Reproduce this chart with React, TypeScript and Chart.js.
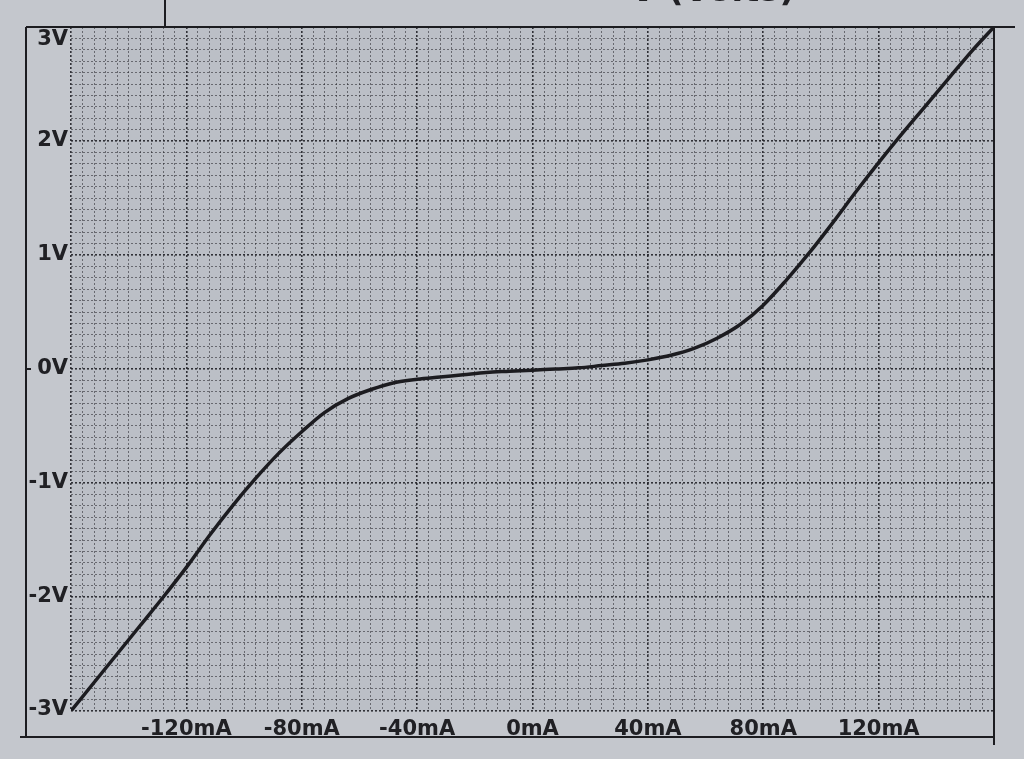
import React, { useEffect, useRef } from "react";
import { Chart, registerables } from "chart.js";

Chart.register(...registerables);

// Current (mA) and voltage (V)
const CURRENT_MA = [
  -160, -152, -144, -136, -128, -120, -112, -104, -96, -88, -80, -72, -64, -56, -48, -40,
  -32, -24, -16, -8, 0, 8, 16, 24, 32, 40, 48, 56, 64, 72, 80, 88, 96, 104, 112, 120,
  128, 136, 144, 152, 160,
];
const VOLTAGE_V = [
  -3.0, -2.75, -2.5, -2.25, -2.0, -1.74, -1.46, -1.2, -0.96, -0.74, -0.55, -0.38, -0.26, -0.18, -0.12, -0.09,
  -0.07, -0.05, -0.03, -0.02, -0.01, 0.0, 0.01, 0.03, 0.05, 0.08, 0.12, 0.18, 0.27, 0.39, 0.56, 0.78, 1.02, 1.28, 1.55, 1.81,
  2.06, 2.3, 2.54, 2.78, 3.0,
];
const X_TICK_LABELS = [-120, -80, -40, 0, 40, 80, 120];
const Y_TICK_LABELS = [3, 2, 1, 0, -1, -2, -3];
const TITLE_TEXT = "V (Volts)";

const PAGE_BG = "#c4c7cd";
const PLOT_BG = "#bbbfc6";
const INK = "#1c1c20";
const LABEL_FONT = { family: "'DejaVu Sans', sans-serif", size: 21, weight: "bold" as const };

const isMajorX = (v: number) => Math.abs(v / 40 - Math.round(v / 40)) < 1e-6;
const isMajorY = (v: number) => Math.abs(v - Math.round(v)) < 1e-6;

const decorPlugin = {
  id: "decor",
  beforeDraw(chart: any) {
    const { ctx, chartArea: a } = chart;
    ctx.save();
    ctx.fillStyle = PAGE_BG;
    ctx.fillRect(0, 0, chart.width, chart.height);
    ctx.fillStyle = PLOT_BG;
    ctx.fillRect(a.left, a.top, a.right - a.left, a.bottom - a.top);
    ctx.restore();
  },
  afterDraw(chart: any) {
    const { ctx, chartArea: a } = chart;
    const ys = chart.scales.y;
    ctx.save();
    // frame
    ctx.strokeStyle = INK;
    ctx.lineWidth = 2;
    const fl = a.left - 45;
    ctx.beginPath();
    ctx.moveTo(fl, a.top);
    ctx.lineTo(a.right + 21, a.top);
    ctx.moveTo(a.right, a.top);
    ctx.lineTo(a.right, a.bottom + 34);
    ctx.moveTo(fl, a.top);
    ctx.lineTo(fl, a.bottom + 26);
    ctx.moveTo(fl - 6, a.bottom + 26);
    ctx.lineTo(a.right, a.bottom + 26);
    ctx.moveTo(fl + 139, 0);
    ctx.lineTo(fl + 139, a.top);
    ctx.stroke();
    // small tick on outer frame
    ctx.beginPath();
    ctx.moveTo(fl, ys.getPixelForValue(0));
    ctx.lineTo(fl + 5, ys.getPixelForValue(0));
    ctx.stroke();

    // y labels
    ctx.fillStyle = "#202024";
    ctx.font = `bold ${LABEL_FONT.size}px ${LABEL_FONT.family}`;
    ctx.textAlign = "right";
    ctx.textBaseline = "middle";
    for (const v of Y_TICK_LABELS) {
      let y = ys.getPixelForValue(v);
      y = Math.max(a.top + 13, Math.min(a.bottom - 1, y));
      ctx.fillText(`${v}V`, a.left - 3, y);
    }
    // cut-off axis title at the top
    ctx.font = `bold 34px ${LABEL_FONT.family}`;
    ctx.textAlign = "center";
    ctx.textBaseline = "alphabetic";
    ctx.fillText(TITLE_TEXT, (a.left + a.right) / 2 + 180, 1);
    ctx.restore();
  },
};

export default function App() {
  const ref = useRef<HTMLCanvasElement | null>(null);

  useEffect(() => {
    if (!ref.current) return;
    const chart = new Chart(ref.current, {
      type: "scatter",
      data: {
        datasets: [
          {
            data: CURRENT_MA.map((x, i) => ({ x, y: VOLTAGE_V[i] })),
            showLine: true,
            borderColor: INK,
            borderWidth: 3.5,
            pointRadius: 0,
            cubicInterpolationMode: "monotone",
          } as any,
        ],
      },
      options: {
        animation: false,
        responsive: false,
        layout: { padding: { left: 71, top: 27, right: 30, bottom: 0 } },
        plugins: { legend: { display: false }, tooltip: { enabled: false } },
        scales: {
          x: {
            type: "linear",
            min: -160,
            max: 160,
            afterFit: (s: any) => {
              s.height = 48;
            },
            ticks: {
              stepSize: 4,
              maxTicksLimit: 200,
              autoSkip: false,
              maxRotation: 0,
              minRotation: 0,
              padding: 6,
              color: "#202024",
              font: LABEL_FONT,
              callback: (v: any) => {
                const n = Number(v);
                return X_TICK_LABELS.some((t) => Math.abs(t - n) < 1e-6) ? `${n}mA` : "";
              },
            },
            grid: {
              drawTicks: false,
              color: (c: any) => (isMajorX(c.tick.value) ? "rgba(25,25,30,0.85)" : "rgba(35,35,40,0.55)"),
              lineWidth: (c: any) => (isMajorX(c.tick.value) ? 1.6 : 1),
            },
            border: { display: false, dash: [2, 2] },
          },
          y: {
            type: "linear",
            min: -3,
            max: 3,
            afterFit: (s: any) => {
              s.width = 0;
            },
            ticks: { stepSize: 0.1, maxTicksLimit: 200, display: false },
            grid: {
              drawTicks: false,
              color: (c: any) => (isMajorY(c.tick.value) ? "rgba(25,25,30,0.85)" : "rgba(35,35,40,0.55)"),
              lineWidth: (c: any) => (isMajorY(c.tick.value) ? 1.6 : 1),
            },
            border: { display: false, dash: [2, 2] },
          },
        },
      },
      plugins: [decorPlugin],
    });
    return () => chart.destroy();
  }, []);

  return (
    <div style={{ position: "fixed", left: 0, top: 0, width: 1024, height: 759, background: PAGE_BG }}>
      <canvas ref={ref} width={1024} height={759} />
    </div>
  );
}
